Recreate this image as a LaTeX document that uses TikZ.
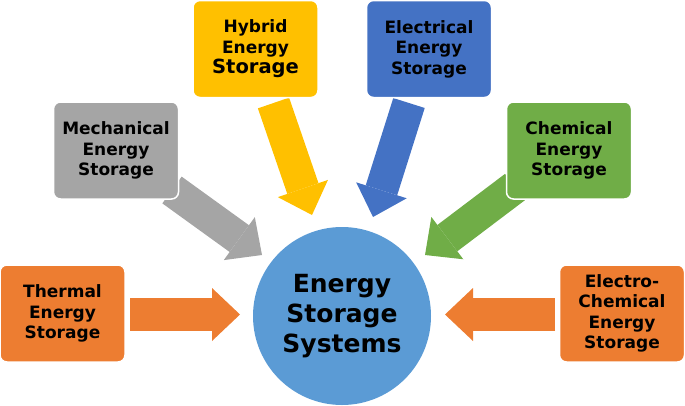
\documentclass[tikz,border=0pt]{standalone}
\usepackage{fontspec}
\setmainfont{DejaVu Sans}
\usetikzlibrary{arrows.meta}
\definecolor{thermal}{HTML}{ED7D31}
\definecolor{hybrid}{HTML}{FFC000}
\definecolor{electric}{HTML}{4472C4}
\definecolor{chemical}{HTML}{70AD47}
\definecolor{mechanic}{HTML}{A5A5A5}
\definecolor{core}{HTML}{5B9BD5}

\begin{document}
\begin{tikzpicture}[x=1pt, y=-1pt,
    box/.style={rectangle, rounded corners=7pt, draw=white, line width=1.5pt,
                minimum width=125pt, minimum height=97pt, inner sep=0pt,
                align=center, font=\bfseries\fontsize{17}{20.5}\selectfont},
    fatarrow/.style={line width=33pt,
                     -{Triangle[length=28pt, width=53pt, line width=0pt]}}]
  \useasboundingbox (0, 0) rectangle (685, 405);

  % arrow ends
  \coordinate (thermal-t) at (130, 314.5);
  \coordinate (thermal-h) at (240, 314.5);
  \coordinate (mech-t) at (172, 190);
  \coordinate (mech-h) at (262, 255);
  \coordinate (hybrid-t) at (273.5, 103);
  \coordinate (hybrid-h) at (312, 215);
  \coordinate (elec-t) at (409, 103);
  \coordinate (elec-h) at (373, 217);
  \coordinate (chem-t) at (515, 187);
  \coordinate (chem-h) at (425, 255);
  \coordinate (echem-t) at (555, 314.5);
  \coordinate (echem-h) at (445, 314.5);

  \draw [fatarrow, color=thermal] (thermal-t) -- (thermal-h);
  \draw [fatarrow, color=mechanic] (mech-t) -- (mech-h);
  \draw [fatarrow, color=hybrid] (hybrid-t) -- (hybrid-h);
  \draw [fatarrow, color=electric] (elec-t) -- (elec-h);
  \draw [fatarrow, color=chemical] (chem-t) -- (chem-h);
  \draw [fatarrow, color=thermal] (echem-t) -- (echem-h);

  \node [box, fill=thermal] (thermal) at (62.5, 313.5) {Thermal\\Energy\\Storage};
  \node [box, fill=mechanic] (mech) at (116, 150.5) {Mechanical\\Energy\\Storage};
  \node [box, fill=hybrid] (hybrid) at (255.5, 49)
    {Hybrid\\Energy\\{\fontsize{19.5}{22}\selectfont Storage}};
  \node [box, fill=electric] (elec) at (429, 49) {Electrical\\Energy\\Storage};
  \node [box, fill=chemical] (chem) at (569, 150.5) {Chemical\\Energy\\Storage};
  \node [box, fill=thermal] (echem) at (622, 313.5)
    {Electro-\\Chemical\\Energy\\Storage};

  \node [circle, fill=core, minimum size=178pt, inner sep=0pt, align=center,
         font=\bfseries\fontsize{25}{30}\selectfont] (ess) at (342, 316)
    {Energy\\Storage\\Systems};

\end{tikzpicture}
\end{document}
